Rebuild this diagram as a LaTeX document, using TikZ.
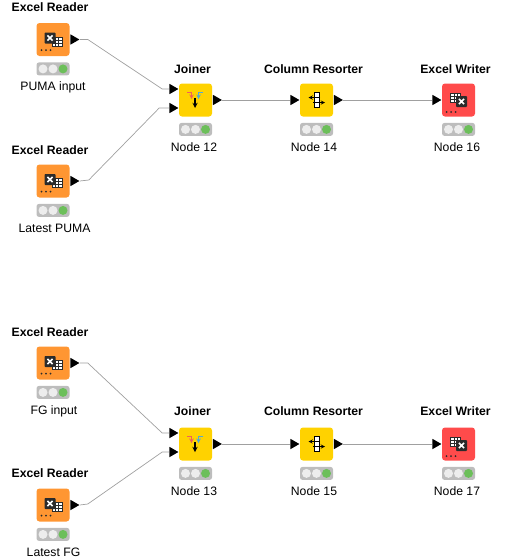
\documentclass[tikz,border=0pt]{standalone}
\usepackage{fontspec}
\setmainfont{Liberation Sans}
\usetikzlibrary{positioning, shapes.geometric}
\definecolor{readerColor}{HTML}{FF9632}
\definecolor{joinerColor}{HTML}{FFD200}
\definecolor{writerColor}{HTML}{FF4B4B}
\definecolor{statusColor}{HTML}{BDBDBD}
\definecolor{lampColor}{HTML}{EDEDED}
\definecolor{greenColor}{HTML}{6CBF5A}
\definecolor{lineColor}{HTML}{A0A0A0}
\definecolor{glyphColor}{HTML}{2B2B2B}
\definecolor{hookRed}{HTML}{F0605A}
\definecolor{hookBlue}{HTML}{4FA8D8}

\begin{document}
\begin{tikzpicture}[
    x=1pt, y=-1pt,
    every node/.style={font=\fontsize{12.2}{14}\selectfont},
    nodebox/.style={
        rectangle,
        rounded corners=3pt,
        minimum size=33pt,
        inner sep=0pt,
    },
    reader/.style={nodebox, fill=readerColor},
    joiner/.style={nodebox, fill=joinerColor},
    writer/.style={nodebox, fill=writerColor},
    title/.style={
        above=9pt,
        inner sep=0pt,
        font=\fontsize{12.2}{14}\selectfont\bfseries,
    },
    status/.style={
        rectangle,
        rounded corners=2.5pt,
        fill=statusColor,
        minimum width=33pt,
        minimum height=13pt,
        inner sep=0pt,
    },
    lamp/.style={circle, fill=lampColor, minimum size=9pt, inner sep=0pt},
    lampon/.style={lamp, fill=greenColor},
    caption/.style={inner sep=0pt, text height=8.5pt, text depth=2pt},
    port/.style={
        isosceles triangle,
        isosceles triangle apex angle=60,
        fill=black,
        inner sep=0pt,
        minimum height=9pt,
        minimum width=9.5pt,
    },
    conn/.style={draw=lineColor, line width=0.7pt},
    pics/cells/.style={code={
        \fill[white] (-5,-4.5) rectangle (5,4.5);
        \draw[glyphColor, line width=0.6pt] (-5,-4.5) rectangle (5,4.5)
            (-5,-1.5) -- (5,-1.5) (-5,1.5) -- (5,1.5)
            (-1.7,-4.5) -- (-1.7,4.5) (1.7,-4.5) -- (1.7,4.5);
    }},
    pics/xmark/.style={code={
        \fill[glyphColor, rounded corners=0.8pt] (-5.5,-5.5) rectangle (5.5,5.5);
        \draw[white, line width=1.5pt] (-2.6,-2.6) -- (2.6,2.6) (-2.6,2.6) -- (2.6,-2.6);
    }},
    pics/dots/.style={code={
        \foreach \dx in {0,4.5,9} \fill[glyphColor] (\dx,0) circle (1pt);
    }},
    pics/readicon/.style={code={
        \pic at (4,2) {cells};
        \pic at (-3,-1.5) {xmark};
        \pic at (-11.5,10.5) {dots};
    }},
    pics/writeicon/.style={code={
        \pic at (-3,-2) {cells};
        \pic at (3,1.5) {xmark};
        \pic at (-12,12) {dots};
    }},
    pics/joinicon/.style={code={
        \draw[hookRed, line width=1pt, -stealth] (-8.5,-7.5) -- (-4,-7.5) -- (-4,-1);
        \draw[hookBlue, line width=1pt, -stealth] (7.5,-7.5) -- (3,-7.5) -- (3,-1);
        \draw[black, line width=1.3pt, -stealth] (-0.5,-2) -- (-0.5,8);
    }},
    pics/sorticon/.style={code={
        \fill[white] (-2.5,-7.5) rectangle (2.5,7.5);
        \draw[black, line width=0.7pt] (-2.5,-7.5) rectangle (2.5,7.5)
            (-2.5,-2.5) -- (2.5,-2.5) (-2.5,2.5) -- (2.5,2.5);
        \draw[black, line width=0.9pt, -stealth] (3.5,-2.5) -- (-8,-2.5);
        \draw[black, line width=0.9pt, -stealth] (-3.5,2.5) -- (8.5,2.5);
    }},
]

% top row
\node[reader] (read1) at (53,39.5) {};
\node[reader] (read2) at (53,181) {};
\node[joiner] (join1) at (195.5,100) {};
\node[joiner] (sort1) at (316.5,100) {};
\node[writer] (write1) at (458.5,100) {};

% bottom row
\node[reader] (read3) at (53,363) {};
\node[reader] (read4) at (53,505) {};
\node[joiner] (join2) at (195.5,444) {};
\node[joiner] (sort2) at (316.5,444) {};
\node[writer] (write2) at (458.5,444) {};

% titles, lights, captions
\foreach \id/\head/\cap/\dy/\dx in {
    read1/Excel Reader/PUMA input/2/0,
    read2/Excel Reader/Latest PUMA/0/1.5,
    join1/Joiner/Node 12/0/-1.5,
    sort1/Column Resorter/Node 14/0/-2.5,
    write1/Excel Writer/Node 16/0/-1.5,
    read3/Excel Reader/FG input/0/1,
    read4/Excel Reader/Latest FG/1/0.5,
    join2/Joiner/Node 13/2/-1.5,
    sort2/Column Resorter/Node 15/2/-2.5,
    write2/Excel Writer/Node 17/2/-1.5}{
    \node[title] (\id head) at ([xshift=-3pt, yshift=\dy pt]\id.north) {\head};
    \node[status, below=6pt of \id] (\id light) {};
    \node[lamp] (\id a) at ([xshift=-10pt]\id light.center) {};
    \node[lamp] (\id b) at (\id light.center) {};
    \node[lampon] (\id c) at ([xshift=10pt]\id light.center) {};
    \node[caption, below=6.5pt of \id light, xshift=\dx pt] (\id cap) {\cap};
}

% glyphs
\foreach \id in {read1,read2,read3,read4} \pic at (\id) {readicon};
\foreach \id in {write1,write2} \pic at (\id) {writeicon};
\foreach \id in {join1,join2} \pic at (\id) {joinicon};
\foreach \id in {sort1,sort2} \pic at (\id) {sorticon};

% ports
\foreach \id in {read1,read2,read3,read4,join1,join2,sort1,sort2}
    \node[port, right=0.5pt of \id] (\id out) {};
\foreach \id in {join1,join2}{
    \node[port, anchor=east] (\id ina) at ([yshift=11pt]\id.west) {};
    \node[port, anchor=east] (\id inb) at ([yshift=-8pt]\id.west) {};
}
\foreach \id in {sort1,sort2,write1,write2}
    \node[port, anchor=east] (\id in) at (\id.west) {};

% connectors
\draw[conn] (read1out.east) -- ++(8,0) -- ([xshift=-7pt]join1ina.west) -- (join1ina.west);
\draw[conn] (read2out.east) -- ++(9,-1) -- ([xshift=-10pt]join1inb.west) -- (join1inb.west);
\draw[conn] (read3out.east) -- ++(8,0) -- ([xshift=-7pt]join2ina.west) -- (join2ina.west);
\draw[conn] (read4out.east) -- ++(8,-1) -- ([xshift=-7pt]join2inb.west) -- (join2inb.west);
\draw[conn] (join1out.east) -- (sort1in.west);
\draw[conn] (sort1out.east) -- (write1in.west);
\draw[conn] (join2out.east) -- (sort2in.west);
\draw[conn] (sort2out.east) -- (write2in.west);

\path[use as bounding box] (0,0) rectangle (512,560);
\end{tikzpicture}
\end{document}
